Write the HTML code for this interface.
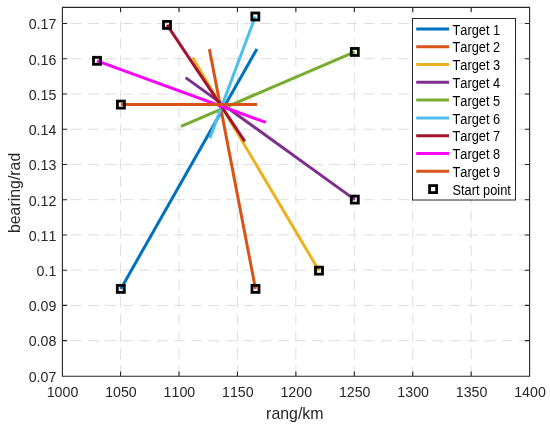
<!DOCTYPE html>
<html><head><meta charset="utf-8"><title>plot</title>
<style>html,body{margin:0;padding:0;background:#fff;width:550px;height:427px;overflow:hidden}svg{display:block}text{font-family:"Liberation Sans",Arial,sans-serif;font-kerning:none}</style></head><body>
<svg width="550" height="427" viewBox="0 0 550 427">
<rect width="550" height="427" fill="#fff"/>
<g stroke="#dedede" stroke-width="1" stroke-dasharray="10.8 6.43" fill="none"><line x1="529.6" y1="340.66" x2="62.4" y2="340.66"/><line x1="529.6" y1="305.42" x2="62.4" y2="305.42"/><line x1="529.6" y1="270.18" x2="62.4" y2="270.18"/><line x1="529.6" y1="234.94" x2="62.4" y2="234.94"/><line x1="529.6" y1="199.7" x2="62.4" y2="199.7"/><line x1="529.6" y1="164.46" x2="62.4" y2="164.46"/><line x1="529.6" y1="129.22" x2="62.4" y2="129.22"/><line x1="529.6" y1="93.98" x2="62.4" y2="93.98"/><line x1="529.6" y1="58.74" x2="62.4" y2="58.74"/><line x1="529.6" y1="23.5" x2="62.4" y2="23.5"/><line x1="120.56" y1="376.3" x2="120.56" y2="7.4"/><line x1="179" y1="376.3" x2="179" y2="7.4"/><line x1="237.44" y1="376.3" x2="237.44" y2="7.4"/><line x1="295.87" y1="376.3" x2="295.87" y2="7.4"/><line x1="354.31" y1="376.3" x2="354.31" y2="7.4"/><line x1="412.75" y1="376.3" x2="412.75" y2="7.4"/><line x1="471.19" y1="376.3" x2="471.19" y2="7.4"/></g>
<g stroke-width="3" fill="none">
<line x1="120.8" y1="288.9" x2="256.9" y2="49.1" stroke="#0072BD"/>
<line x1="255.5" y1="288.9" x2="209.4" y2="49.1" stroke="#D95319"/>
<line x1="319" y1="270.65" x2="192.6" y2="57.5" stroke="#EDB120"/>
<line x1="354.8" y1="199.6" x2="185.6" y2="77.65" stroke="#7E2F8E"/>
<line x1="354.8" y1="51.95" x2="181.05" y2="126.35" stroke="#77AC30"/>
<line x1="255.35" y1="16.5" x2="209.8" y2="138.1" stroke="#4DBEEE"/>
<line x1="167" y1="24.9" x2="244.8" y2="141.4" stroke="#A2142F"/>
<line x1="97" y1="60.8" x2="265.9" y2="122.4" stroke="#FF00FF"/>
<line x1="120.9" y1="104.6" x2="257.1" y2="104.6" stroke="#D95319"/>
</g>
<g stroke="#000" stroke-width="2.8" fill="none">
<rect x="117.3" y="285.4" width="7" height="7"/>
<rect x="252" y="285.4" width="7" height="7"/>
<rect x="315.5" y="267.15" width="7" height="7"/>
<rect x="351.3" y="196.1" width="7" height="7"/>
<rect x="351.3" y="48.45" width="7" height="7"/>
<rect x="251.85" y="13" width="7" height="7"/>
<rect x="163.5" y="21.4" width="7" height="7"/>
<rect x="93.5" y="57.3" width="7" height="7"/>
<rect x="117.4" y="101.1" width="7" height="7"/>
</g>
<g stroke="#262626" stroke-width="1.1" fill="none"><path d="M62.4 7.4H529.6V376.3H62.4Z"/><path d="M62.4 340.66h4.7 M529.6 340.66h-4.7"/><path d="M62.4 305.42h4.7 M529.6 305.42h-4.7"/><path d="M62.4 270.18h4.7 M529.6 270.18h-4.7"/><path d="M62.4 234.94h4.7 M529.6 234.94h-4.7"/><path d="M62.4 199.7h4.7 M529.6 199.7h-4.7"/><path d="M62.4 164.46h4.7 M529.6 164.46h-4.7"/><path d="M62.4 129.22h4.7 M529.6 129.22h-4.7"/><path d="M62.4 93.98h4.7 M529.6 93.98h-4.7"/><path d="M62.4 58.74h4.7 M529.6 58.74h-4.7"/><path d="M62.4 23.5h4.7 M529.6 23.5h-4.7"/><path d="M120.56 376.3v-4.7 M120.56 7.4v4.7"/><path d="M179 376.3v-4.7 M179 7.4v4.7"/><path d="M237.44 376.3v-4.7 M237.44 7.4v4.7"/><path d="M295.87 376.3v-4.7 M295.87 7.4v4.7"/><path d="M354.31 376.3v-4.7 M354.31 7.4v4.7"/><path d="M412.75 376.3v-4.7 M412.75 7.4v4.7"/><path d="M471.19 376.3v-4.7 M471.19 7.4v4.7"/></g>
<g fill="#262626" font-size="14.2"><text x="56.3" y="381.7" text-anchor="end">0.07</text><text x="56.3" y="346.46" text-anchor="end">0.08</text><text x="56.3" y="311.22" text-anchor="end">0.09</text><text x="56.3" y="275.98" text-anchor="end">0.1</text><text x="56.3" y="240.74" text-anchor="end">0.11</text><text x="56.3" y="205.5" text-anchor="end">0.12</text><text x="56.3" y="170.26" text-anchor="end">0.13</text><text x="56.3" y="135.02" text-anchor="end">0.14</text><text x="56.3" y="99.78" text-anchor="end">0.15</text><text x="56.3" y="64.54" text-anchor="end">0.16</text><text x="56.3" y="29.3" text-anchor="end">0.17</text><text x="62.12" y="397.3" text-anchor="middle" dx="0.4">1000</text><text x="120.56" y="397.3" text-anchor="middle" dx="0.4">1050</text><text x="179" y="397.3" text-anchor="middle" dx="0.4">1100</text><text x="237.44" y="397.3" text-anchor="middle" dx="0.4">1150</text><text x="295.87" y="397.3" text-anchor="middle" dx="0.4">1200</text><text x="354.31" y="397.3" text-anchor="middle" dx="0.4">1250</text><text x="412.75" y="397.3" text-anchor="middle" dx="0.4">1300</text><text x="471.19" y="397.3" text-anchor="middle" dx="0.4">1350</text><text x="529.62" y="397.3" text-anchor="middle" dx="0.4">1400</text></g>
<text x="294.8" y="419.4" text-anchor="middle" font-size="15.9" fill="#262626">rang/km</text>
<text transform="translate(19.7 192.9) rotate(-90)" text-anchor="middle" font-size="15.9" fill="#262626">bearing/rad</text>
<rect x="412.5" y="18.5" width="103" height="181.5" fill="#fff" stroke="#262626" stroke-width="1"/>
<line x1="416.2" y1="28.9" x2="449" y2="28.9" stroke="#0072BD" stroke-width="3"/><text transform="translate(452.5 34.5) scale(1 1.08)" font-size="12.8" fill="#000">Target 1</text><line x1="416.2" y1="46.7" x2="449" y2="46.7" stroke="#D95319" stroke-width="3"/><text transform="translate(452.5 52.3) scale(1 1.08)" font-size="12.8" fill="#000">Target 2</text><line x1="416.2" y1="64.5" x2="449" y2="64.5" stroke="#EDB120" stroke-width="3"/><text transform="translate(452.5 70.1) scale(1 1.08)" font-size="12.8" fill="#000">Target 3</text><line x1="416.2" y1="82.3" x2="449" y2="82.3" stroke="#7E2F8E" stroke-width="3"/><text transform="translate(452.5 87.9) scale(1 1.08)" font-size="12.8" fill="#000">Target 4</text><line x1="416.2" y1="100.1" x2="449" y2="100.1" stroke="#77AC30" stroke-width="3"/><text transform="translate(452.5 105.7) scale(1 1.08)" font-size="12.8" fill="#000">Target 5</text><line x1="416.2" y1="117.9" x2="449" y2="117.9" stroke="#4DBEEE" stroke-width="3"/><text transform="translate(452.5 123.5) scale(1 1.08)" font-size="12.8" fill="#000">Target 6</text><line x1="416.2" y1="135.7" x2="449" y2="135.7" stroke="#A2142F" stroke-width="3"/><text transform="translate(452.5 141.3) scale(1 1.08)" font-size="12.8" fill="#000">Target 7</text><line x1="416.2" y1="153.5" x2="449" y2="153.5" stroke="#FF00FF" stroke-width="3"/><text transform="translate(452.5 159.1) scale(1 1.08)" font-size="12.8" fill="#000">Target 8</text><line x1="416.2" y1="171.3" x2="449" y2="171.3" stroke="#D95319" stroke-width="3"/><text transform="translate(452.5 176.9) scale(1 1.08)" font-size="12.8" fill="#000">Target 9</text><rect x="429.6" y="185.6" width="7" height="7" fill="none" stroke="#000" stroke-width="2.8"/><text transform="translate(452.5 194.7) scale(1 1.08)" font-size="12.8" fill="#000">Start point</text>
</svg></body></html>
